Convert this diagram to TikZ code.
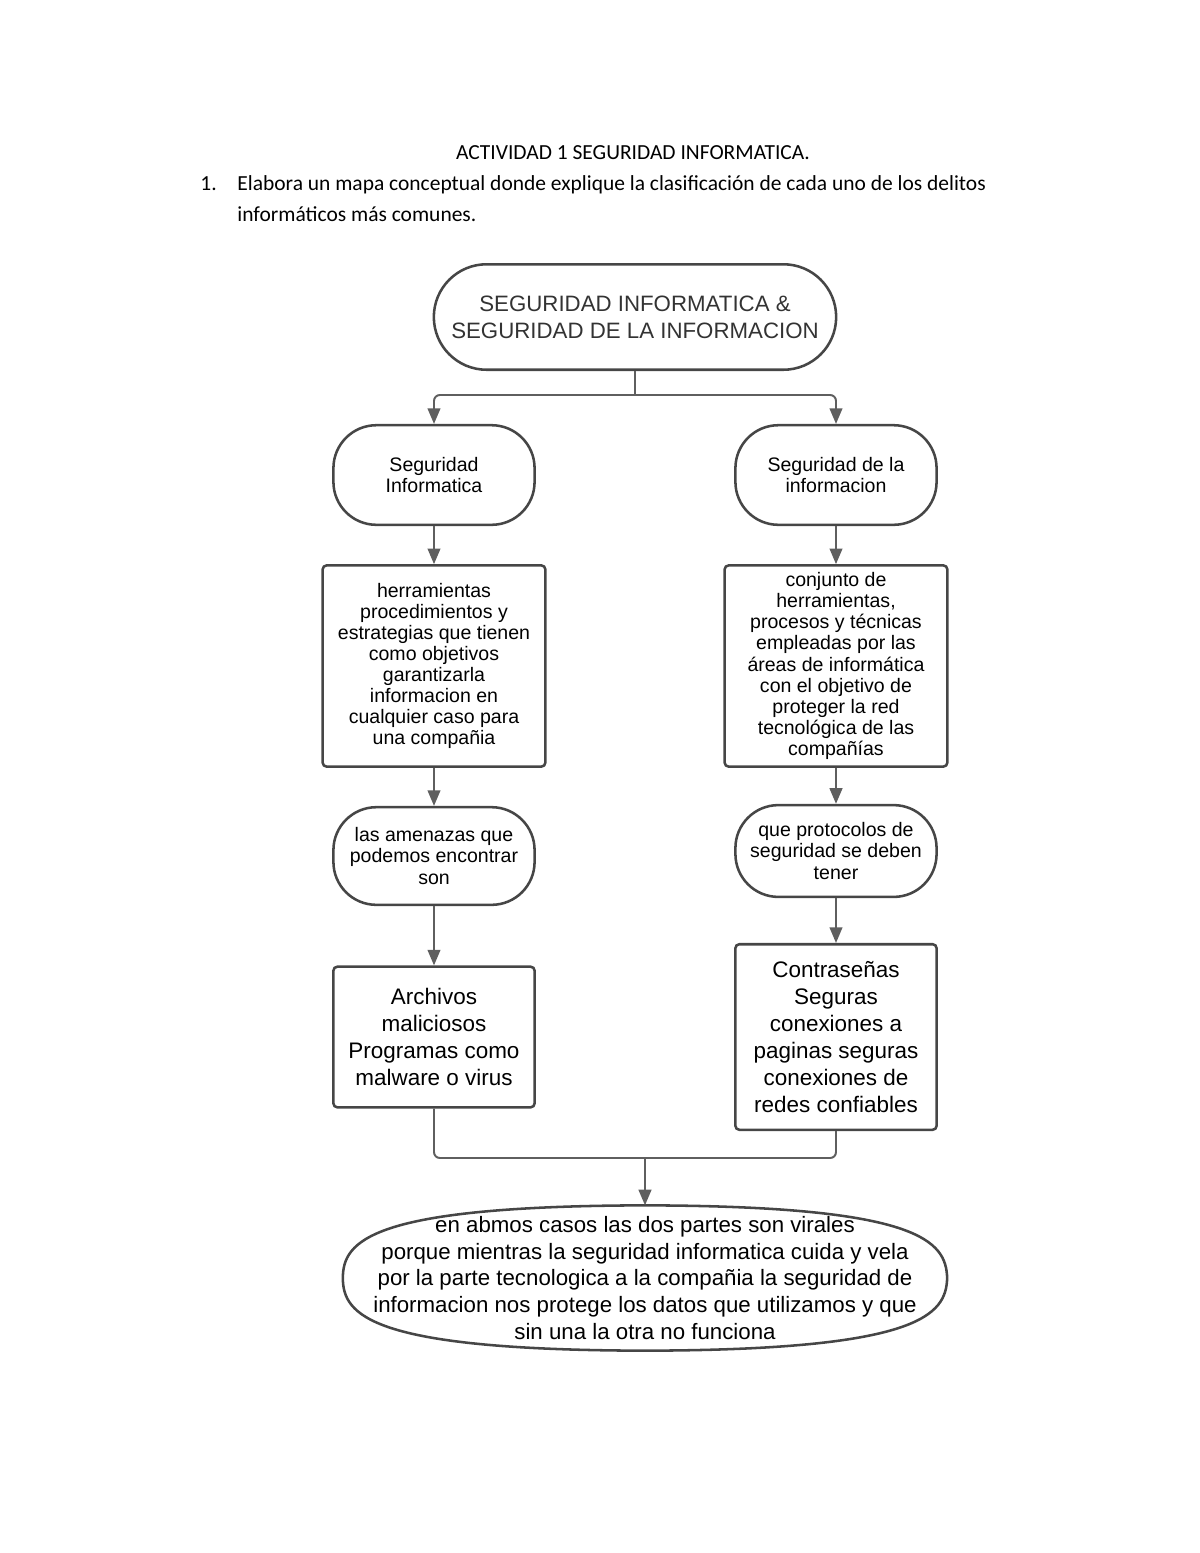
\documentclass[tikz,border=0pt]{standalone}
\usepackage{fontspec}
\setmainfont{Carlito}
\newfontfamily\lucid{Liberation Sans}
\usetikzlibrary{arrows.meta,shapes.geometric}

\definecolor{bordegris}{RGB}{70,70,70}
\definecolor{lineagris}{RGB}{95,95,95}

\tikzset{
  pill/.style={draw=bordegris, line width=1.3pt, rounded corners=22pt, minimum width=103pt, minimum height=51pt, inner sep=0pt, align=center, font=\lucid\fontsize{10}{10.8}\selectfont},
  caja/.style={draw=bordegris, line width=1.3pt, rounded corners=2pt, minimum width=114pt, minimum height=103pt, inner sep=0pt, align=center, font=\lucid\fontsize{10}{10.8}\selectfont},
  grande/.style={minimum width=103pt, font=\lucid\fontsize{11.5}{13.8}\selectfont},
  linea/.style={draw=lineagris, line width=1pt, rounded corners=3pt},
  flecha/.style={linea, -{Triangle[length=8pt,width=6.5pt]}, lineagris}
}

\begin{document}
\begin{tikzpicture}[x=0.512pt, y=-0.512pt, font=\fontsize{11}{13}\selectfont]
\useasboundingbox (0,0) rectangle (1200,1553);

% encabezado
\node[anchor=base] (tit) at (633,159) {ACTIVIDAD 1 SEGURIDAD INFORMATICA.};
\node[anchor=base west, inner sep=0pt] (num) at (200,190) {1.};
\node[anchor=base west, inner sep=0pt] (lin1) at (237,190) {Elabora un mapa conceptual donde explique la clasificación de cada uno de los delitos};
\node[anchor=base west, inner sep=0pt] (lin2) at (237,221) {informáticos más comunes.};

% mapa
\node[pill, rounded corners=27pt, minimum width=206pt, minimum height=54pt, text=black!80, font=\lucid\fontsize{11.4}{13.8}\selectfont] (raiz) at (635,317) {SEGURIDAD INFORMATICA \&\\SEGURIDAD DE LA INFORMACION};

\node[pill] (si) at (434,475) {Seguridad\\Informatica};
\node[pill] (sdi) at (836,475) {Seguridad de la\\informacion};

\node[caja] (herr) at (434,666) {herramientas\\procedimientos y\\estrategias que tienen\\como objetivos\\garantizarla\\informacion en\\cualquier caso para\\una compañia};
\node[caja] (conj) at (836,666) {conjunto de\\herramientas,\\procesos y técnicas\\empleadas por las\\áreas de informática\\con el objetivo de\\proteger la red\\tecnológica de las\\compañías};

\node[pill, minimum height=50pt] (amen) at (434,856) {las amenazas que\\podemos encontrar\\son};
\node[pill, minimum height=47pt] (prot) at (836,851) {que protocolos de\\seguridad se deben\\tener};

\node[caja, grande, minimum height=72pt] (arch) at (434,1037) {Archivos\\maliciosos\\Programas como\\malware o virus};
\node[caja, grande, minimum height=95pt] (contra) at (836,1037) {Contraseñas\\Seguras\\conexiones a\\paginas seguras\\conexiones de\\redes confiables};

% ovalo final (mas plano que una elipse)
\node[minimum width=309pt, minimum height=74pt, inner sep=0pt, align=center, font=\lucid\fontsize{11.4}{13.8}\selectfont] (fin) at (645,1278) {en abmos casos las dos partes son virales\\porque mientras la seguridad informatica cuida y vela\\por la parte tecnologica a la compañia la seguridad de\\informacion nos protege los datos que utilizamos y que\\sin una la otra no funciona};
\draw[draw=bordegris, line width=1.3pt] (fin.west) .. controls (343,1241) and (370,1206) .. (fin.north)
  .. controls (920,1206) and (946,1241) .. (fin.east)
  .. controls (946,1315) and (920,1350) .. (fin.south)
  .. controls (370,1350) and (343,1315) .. (fin.west) -- cycle;

% conectores
\coordinate (rama) at (635,395);
\draw[linea] (raiz) -- (rama);
\draw[flecha] (rama) -| (si);
\draw[flecha] (rama) -| (sdi);
\foreach \a/\b in {si/herr, sdi/conj, herr/amen, conj/prot, amen/arch, prot/contra}
  \draw[flecha] (\a) -- (\b);
\coordinate (union) at (645,1158);
\draw[linea] (arch) |- (union);
\draw[linea] (contra) |- (union);
\draw[flecha] (union) -- (fin);

\end{tikzpicture}
\end{document}
